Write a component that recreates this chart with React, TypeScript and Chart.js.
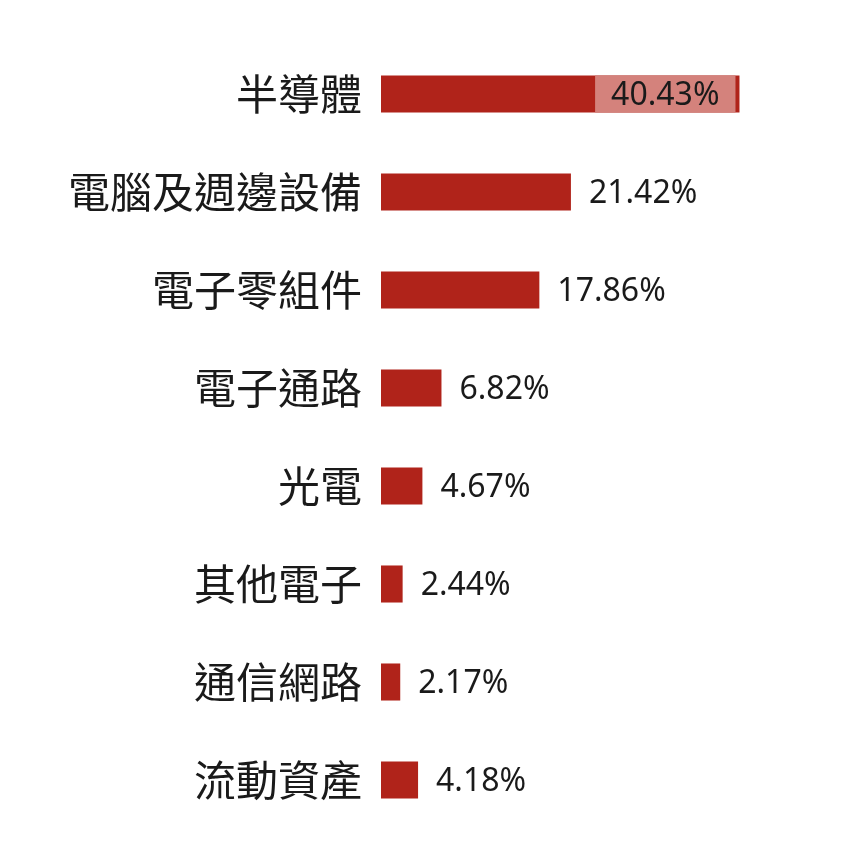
import React, { useEffect, useRef } from 'react';
import Chart from 'chart.js/auto';

// Sector weights (%)
const sectors = ['半導體', '電腦及週邊設備', '電子零組件', '電子通路', '光電', '其他電子', '通信網路', '流動資產'];
const shares = [40.43, 21.42, 17.86, 6.82, 4.67, 2.44, 2.17, 4.18];

const BAR_COLOR = '#b0231a';
const LABEL_BOX = '#d4827c';
const TEXT_COLOR = '#1a1a1a';

// Draws the percentage next to each bar, or inside a light box when it does not fit
const valueLabels = {
  id: 'valueLabels',
  afterDatasetsDraw(chart: any) {
    const { ctx, chartArea } = chart;
    const meta = chart.getDatasetMeta(0);
    ctx.save();
    ctx.font = '32px "Noto Sans", sans-serif';
    ctx.textBaseline = 'middle';
    meta.data.forEach((bar: any, i: number) => {
      const text = shares[i].toFixed(2) + '%';
      const w = ctx.measureText(text).width;
      const { x, y, height } = bar.getProps(['x', 'y', 'height'], true);
      if (x + 18 + w > chartArea.right) {
        const boxW = w + 32;
        const boxRight = x - 4;
        ctx.fillStyle = LABEL_BOX;
        ctx.fillRect(boxRight - boxW, y - height / 2, boxW, height);
        ctx.fillStyle = TEXT_COLOR;
        ctx.textAlign = 'center';
        ctx.fillText(text, boxRight - boxW / 2, y + 2);
      } else {
        ctx.fillStyle = TEXT_COLOR;
        ctx.textAlign = 'left';
        ctx.fillText(text, x + 18, y + 2);
      }
    });
    ctx.restore();
  },
};

const SectorChart: React.FC = () => {
  const chartRef = useRef<HTMLCanvasElement | null>(null);
  const chartInstance = useRef<Chart | null>(null);

  useEffect(() => {
    if (!chartRef.current) return;
    if (chartInstance.current) {
      chartInstance.current.destroy();
    }
    const ctx = chartRef.current.getContext('2d');
    if (ctx) {
      chartInstance.current = new Chart(ctx, {
        type: 'bar',
        data: {
          labels: sectors,
          datasets: [{
            data: shares,
            backgroundColor: BAR_COLOR,
            borderWidth: 0,
            categoryPercentage: 1,
            barPercentage: 0.378,
          }],
        },
        options: {
          indexAxis: 'y',
          animation: false,
          responsive: true,
          maintainAspectRatio: false,
          layout: { padding: { top: 45, bottom: 31, left: 0, right: 62 } },
          scales: {
            x: {
              display: false,
              min: 0,
              max: 45,
            },
            y: {
              grid: { display: false, drawTicks: false },
              border: { display: false },
              ticks: {
                padding: 19,
                color: TEXT_COLOR,
                font: { family: '"Noto Sans CJK TC", sans-serif', size: 42 },
              },
              afterFit: (scale: any) => {
                scale.width = 381;
                scale.paddingTop = 0;
                scale.paddingBottom = 0;
              },
            },
          },
          plugins: {
            legend: { display: false },
            tooltip: { enabled: false },
          },
        },
        plugins: [valueLabels],
      });
    }

    return () => {
      if (chartInstance.current) {
        chartInstance.current.destroy();
        chartInstance.current = null;
      }
    };
  }, []);

  return (
    <div style={{ position: 'absolute', left: 0, top: 0, width: 842, height: 860, background: '#fff' }}>
      <canvas ref={chartRef}></canvas>
    </div>
  );
};

export default function App() {
  return <SectorChart />;
}
